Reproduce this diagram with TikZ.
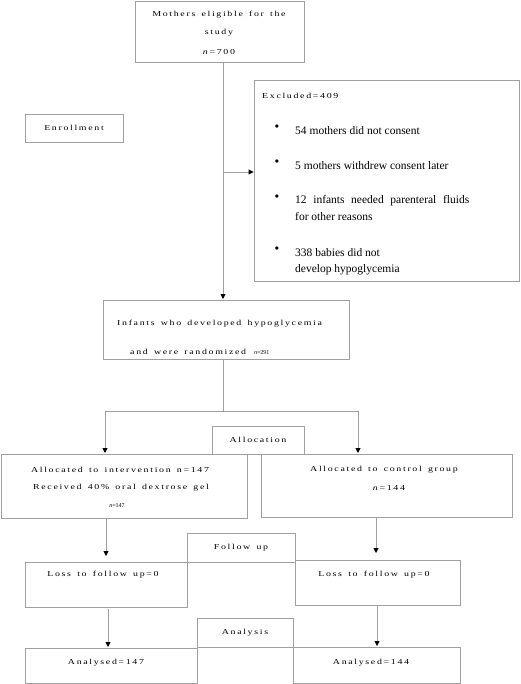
\documentclass[tikz,border=0pt]{standalone}
\usepackage{fontspec}
\setmainfont{Liberation Serif}
\newfontfamily\spc[LetterSpace=22,FakeStretch=1.3,WordSpace=1.5]{Liberation Serif}
\usetikzlibrary{arrows.meta}
\definecolor{boxgray}{HTML}{A0A0A0}
\tikzset{
  bx/.style={draw=boxgray, line width=0.9pt, minimum width=#1, inner sep=0pt},
  lbl/.style={inner sep=0pt, font=\spc\fontsize{7.6}{9}\selectfont},
  lst/.style={inner sep=0pt, anchor=west, font=\fontsize{11.5}{13}\selectfont},
  conn/.style={draw=boxgray, line width=0.9pt},
  arr/.style={conn, -{Triangle[color=black,length=5pt,width=5pt]}}
}
\begin{document}
\begin{tikzpicture}[x=1pt,y=-1pt]
\useasboundingbox (0,0) rectangle (520,684);
% boxes
\node[bx=169pt, minimum height=61pt] (top) at (219.5,31.5) {};
\node[bx=265pt, minimum height=201pt] (excl) at (386.5,180.5) {};
\node[bx=98pt, minimum height=28pt] (enr) at (74,128) {};
\node[bx=246pt, minimum height=59pt] (inf) at (226,329.5) {};
\node[bx=92pt, minimum height=28pt] (alloc) at (258,440) {};
\node[bx=246pt, minimum height=64pt] (intv) at (124,486) {};
\node[bx=251pt, minimum height=63pt] (ctrl) at (386.5,485.5) {};
\node[bx=108pt, minimum height=29pt] (fol) at (241,547.5) {};
\node[bx=162pt, minimum height=45pt] (lossl) at (106,584.5) {};
\node[bx=165pt, minimum height=45pt] (lossr) at (377.5,582.5) {};
\node[bx=96pt, minimum height=29pt] (ana) at (245,632.5) {};
\node[bx=172pt, minimum height=35pt] (anl) at (111,665.5) {};
\node[bx=167pt, minimum height=36pt] (anr) at (376.5,665) {};
% texts
\node[lbl] (t1) at (219,15) {Mothers eligible for the};
\node[lbl] (t2) at (219,33) {study};
\node[lbl] (t3) at (219,52) {\textit{n}=700};
\node[lbl, anchor=west] (e0) at (262,96) {Excluded=409};
\node[lbl] (enrt) at (74,128) {Enrollment};
\foreach \y/\n in {131/b1,166/b2,201/b3,253/b4} {
  \node[inner sep=0pt, font=\bfseries\fontsize{12}{13}\selectfont] (\n) at (277,\y-3) {\textbullet};
}
\node[lst] (l1) at (295,131) {54 mothers did not consent};
\node[lst] (l2) at (295,166) {5 mothers withdrew consent later};
\node[lst] (l3) at (295,201) {\makebox[174pt][s]{12 infants needed parenteral fluids}};
\node[lst] (l3b) at (295,217) {for other reasons};
\node[lst] (l4) at (295,253) {338 babies did not};
\node[lst] (l4b) at (295,270) {develop hypoglycemia};
\node[lbl, anchor=west] (i1) at (117,324) {Infants who developed hypoglycemia};
\node[lbl, anchor=west] (i2) at (130,352) {and were randomized \textrm{\fontsize{6}{7}\selectfont\textit{n}=291}};
\node[lbl] (alt) at (258,440) {Allocation};
\node[lbl] (v1) at (120,470) {Allocated to intervention n=147};
\node[lbl] (v2) at (121,488) {Received 40\% oral dextrose gel};
\node[inner sep=0pt, font=\fontsize{6}{7}\selectfont] (v3) at (117,506) {\textit{n}=147};
\node[lbl] (c1t) at (384,470) {Allocated to control group};
\node[lbl] (c2t) at (389,488) {\textit{n}=144};
\node[lbl] (folt) at (241,548) {Follow up};
\node[lbl] (llt) at (103,575) {Loss to follow up=0};
\node[lbl] (lrt) at (374,575) {Loss to follow up=0};
\node[lbl] (anat) at (245,633) {Analysis};
\node[lbl] (alt1) at (106,663) {Analysed=147};
\node[lbl] (art1) at (371,663) {Analysed=144};
% connector coordinates
\coordinate (a0) at (223,62);
\coordinate (a1) at (223,299);
\coordinate (br) at (223,172);
\coordinate (a2) at (223,359);
\coordinate (sp) at (223,411);
\coordinate (spl) at (105,411);
\coordinate (spr) at (358,411);
\coordinate (tl) at (105,453);
\coordinate (tr) at (358,453);
\coordinate (d1) at (106,518);
\coordinate (d1e) at (106,556);
\coordinate (d2) at (376,517);
\coordinate (d2e) at (376,553);
\coordinate (e1) at (108,609);
\coordinate (e1e) at (108,647);
\coordinate (e2) at (377,605);
\coordinate (e2e) at (377,646);
% connectors
\draw[arr] (a0) -- (a1);
\draw[arr] (br) -- (excl.west |- br);
\draw[conn] (a2) -- (sp);
\draw[arr] (sp) -- (spl) -- (tl);
\draw[arr] (sp) -- (spr) -- (tr);
\draw[arr] (d1) -- (d1e);
\draw[arr] (d2) -- (d2e);
\draw[arr] (e1) -- (e1e);
\draw[arr] (e2) -- (e2e);
\end{tikzpicture}
\end{document}
